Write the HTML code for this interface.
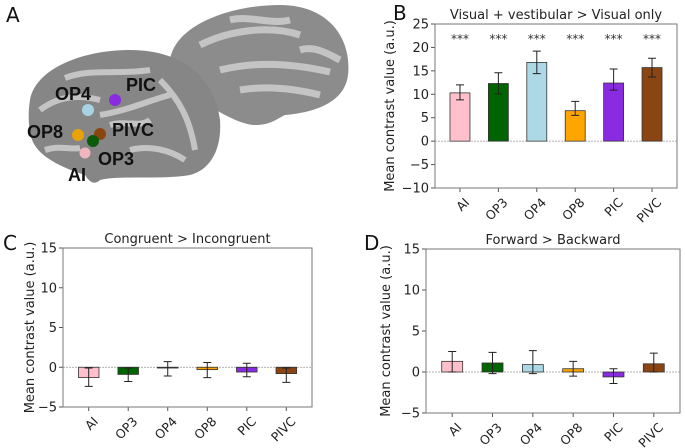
<!DOCTYPE html>
<html><head><meta charset="utf-8"><style>
html,body{margin:0;padding:0;background:#fff;width:685px;height:448px;overflow:hidden}
svg{position:absolute;left:0;top:0;font-family:"DejaVu Sans","Liberation Sans",sans-serif}
.lbl{font-family:"Liberation Sans",sans-serif;font-weight:bold;font-size:18px;fill:#111}
</style></head><body>
<svg id="fig" width="685" height="448">
 <g>
  <text x="6" y="22" font-size="20" fill="#111">A</text>
  <path d="M170,60 C175,25 230,5 280,5 C330,5 352,40 348,75 C345,100 320,112 285,115 C275,120 270,125 255,125 C240,125 215,110 200,100 Z" fill="#8c8c8c"/>
  <path d="M200,45 C230,30 270,25 300,35 M220,70 C260,60 300,65 330,72 M240,90 C270,85 300,90 320,95 M230,20 C250,15 270,25 290,20 M300,50 C315,45 330,55 340,60" stroke="#c4c4c4" stroke-width="7" fill="none"/>
  <path d="M30,100 C35,70 80,50 130,50 C185,50 215,80 220,120 C222,150 210,170 190,175 C160,180 120,175 100,180 C95,185 90,183 85,175 C70,170 40,160 32,140 C28,128 28,112 30,100 Z" fill="#868686"/>
  <path d="M40,110 C60,95 80,95 100,100 M65,78 C90,68 120,75 150,70 M100,115 C130,110 150,100 170,95 M160,80 C180,100 190,120 195,150 M45,150 C60,145 70,150 80,148 M130,150 C150,145 170,150 185,160 M110,125 C125,120 140,128 150,120" stroke="#c4c4c4" stroke-width="6" fill="none"/>
  <circle cx="115" cy="100" r="6" fill="#8a2be2"/><circle cx="88" cy="110" r="6" fill="#a8d3e3"/>
  <circle cx="78" cy="135" r="6" fill="#e8a20a"/><circle cx="100" cy="134" r="6" fill="#8b4513"/>
  <circle cx="93" cy="141" r="6" fill="#0a5a0a"/><circle cx="85" cy="153" r="5.5" fill="#f0b6c0"/>
  <text class="lbl" x="55" y="100">OP4</text><text class="lbl" x="126" y="91">PIC</text>
  <text class="lbl" x="27" y="138">OP8</text><text class="lbl" x="112" y="136">PIVC</text>
  <text class="lbl" x="98" y="165">OP3</text><text class="lbl" x="68" y="181">AI</text>
 </g>
</svg>
<script>
const categories=["AI","OP3","OP4","OP8","PIC","PIVC"];
const colors=["#ffc0cb","#006400","#add8e6","#ffa500","#8a2be2","#8b4513"];
const bValues=[10.3,12.3,16.8,6.5,12.4,15.7];
const bLow=[8.8,10.1,14.4,5.5,10.9,13.7];
const bHigh=[12.0,14.6,19.2,8.5,15.4,17.7];
const bTicks=[25,20,15,10,5,0,-5,-10];
const cValues=[-1.3,-0.9,-0.1,-0.3,-0.6,-0.8];
const cLow=[-2.4,-1.8,-1.1,-1.3,-1.2,-1.9];
const cHigh=[-0.1,-0.1,0.7,0.6,0.5,-0.1];
const cdTicks=[15,10,5,0,-5];
const dValues=[1.3,1.1,0.9,0.4,-0.6,1.0];
const dLow=[0,-0.2,-0.2,-0.5,-1.4,0];
const dHigh=[2.5,2.4,2.6,1.3,0.4,2.3];
const NS="http://www.w3.org/2000/svg";
const svg=document.getElementById('fig');
function mk(t,a,p){const e=document.createElementNS(NS,t);for(const k in a)e.setAttribute(k,a[k]);(p||svg).appendChild(e);return e;}
function panel(o){
  const g=mk('g',{});
  
  
  const y=v=>o.top+(o.ymax-v)/(o.ymax-o.ymin)*(o.bottom-o.top);
  const step=(o.right-o.left)/6.3;
  const x=i=>o.left+step*(0.65+i);
  const bw=step*0.52;
  const L=mk('text',{x:o.letterX,y:o.letterY,'font-size':20,fill:'#111'},g);L.textContent=o.letter;
  
  
  const T=mk('text',{x:(o.left+o.right)/2,y:o.top-5,'font-size':13,'text-anchor':'middle',fill:'#222'},g);T.textContent=o.title;
  
  
  o.ticks.forEach(t=>{
    mk('line',{x1:o.left-4,x2:o.left,y1:y(t),y2:y(t),stroke:'#555'},g);
    const tx=mk('text',{x:o.left-6,y:y(t)+4.5,'font-size':13,'text-anchor':'end',fill:'#222'},g);
    tx.textContent=t<0?'\u2212'+(-t):String(t);
    
    
  });
  mk('line',{x1:o.left,x2:o.right,y1:y(0),y2:y(0),stroke:'#999','stroke-width':0.8,'stroke-dasharray':'2,1'},g);
  categories.forEach((c,i)=>{
    const v=o.values[i];
    const r=mk('rect',{x:x(i)-bw/2,y:Math.min(y(v),y(0)),width:bw,height:Math.abs(y(v)-y(0)),fill:colors[i],stroke:'#333','stroke-width':0.8},g);
    
    
    const e=mk('path',{d:`M${x(i)},${y(o.low[i])}V${y(o.high[i])}M${x(i)-4},${y(o.low[i])}h8M${x(i)-4},${y(o.high[i])}h8`,stroke:'#222','stroke-width':1,fill:'none'},g);
    
    
    mk('line',{x1:x(i),x2:x(i),y1:o.bottom,y2:o.bottom+4,stroke:'#555'},g);
    const lx=x(i)+4,ly=o.bottom+9;
    const tl=mk('text',{x:lx,y:ly,'font-size':12.5,'text-anchor':'end',fill:'#222',transform:`rotate(-45 ${lx} ${ly})`,dy:'0.7em'},g);
    tl.textContent=c;
    
    
    if(o.stars){const s=mk('text',{x:x(i),y:y(22)+5,'font-size':12,'text-anchor':'middle',fill:'#333'},g);s.textContent='***';
      
      }
  });
  const fr=mk('rect',{x:o.left,y:o.top,width:o.right-o.left,height:o.bottom-o.top,fill:'none',stroke:'#777','stroke-width':1},g);
  
  
  const yl=mk('text',{x:o.ylx,y:(o.top+o.bottom)/2,'font-size':13,'text-anchor':'middle',fill:'#222',transform:`rotate(-90 ${o.ylx} ${(o.top+o.bottom)/2})`},g);
  yl.textContent='Mean contrast value (a.u.)';
  
  
}
panel({name:'chart-visual-vestibular',letter:'B',letterX:393,letterY:20,title:'Visual + vestibular > Visual only',left:435,right:677,top:24,bottom:188,ymax:25,ymin:-10,ticks:bTicks,values:bValues,low:bLow,high:bHigh,stars:true,ylx:394});
panel({name:'chart-congruent',letter:'C',letterX:3,letterY:250,title:'Congruent > Incongruent',left:63,right:312,top:248,bottom:407,ymax:15,ymin:-5,ticks:cdTicks,values:cValues,low:cLow,high:cHigh,ylx:34});
panel({name:'chart-forward-backward',letter:'D',letterX:364,letterY:250,title:'Forward > Backward',left:426,right:680,top:249,bottom:413,ymax:15,ymin:-5,ticks:cdTicks,values:dValues,low:dLow,high:dHigh,ylx:390});
</script>
</body></html>
